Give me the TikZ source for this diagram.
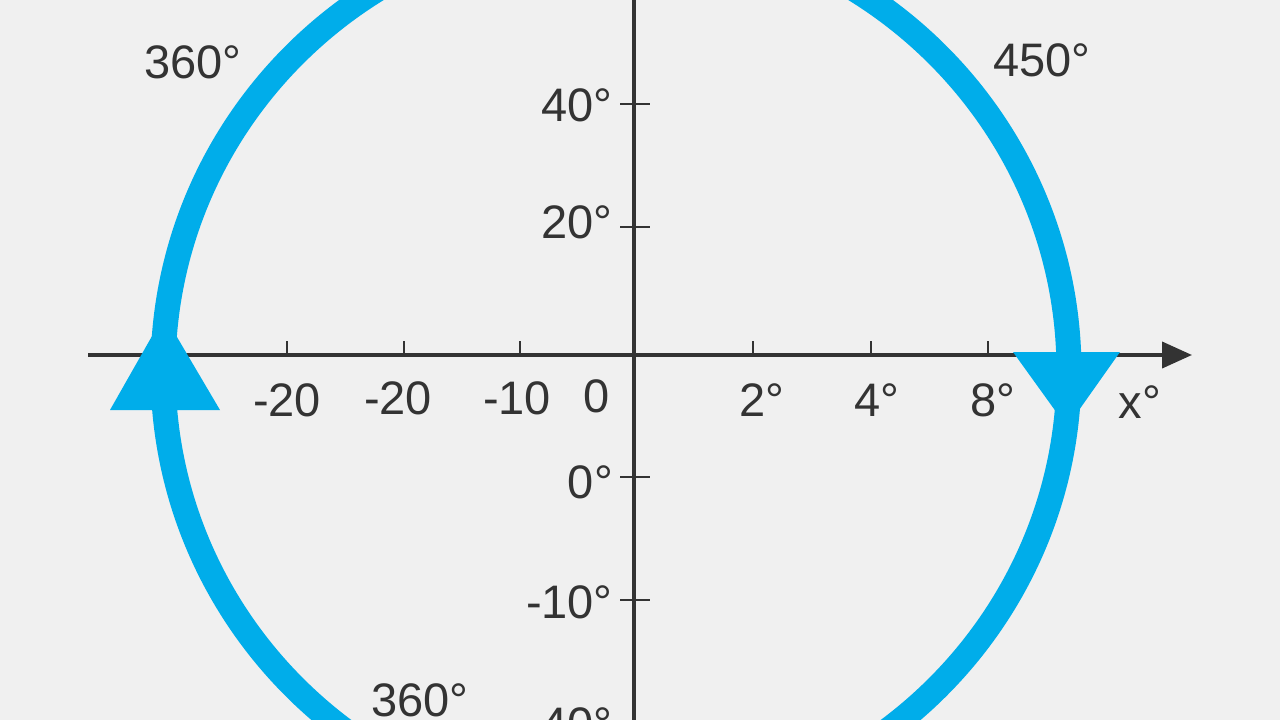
\documentclass[tikz,border=0pt]{standalone}
\usepackage{fontspec}
\setmainfont{Liberation Sans}
\usetikzlibrary{arrows.meta}
\definecolor{bg}{HTML}{F0F0F0}
\definecolor{ringblue}{HTML}{00ADEA}
\definecolor{ink}{HTML}{333333}
\tikzset{
  lbl/.style={font=\fontsize{47}{52}\selectfont, text=ink, inner sep=0pt},
  axisline/.style={draw=ink, line width=4pt},
  tickmark/.style={draw=ink, line width=2.2pt},
  ring/.style={draw=ringblue, line width=25pt},
  headtri/.style={fill=ringblue, draw=none}
}
\begin{document}
\begin{tikzpicture}[x=1pt,y=-1pt]
\useasboundingbox (0,0) rectangle (1280,720);
\clip (0,0) rectangle (1280,720);
\fill[bg] (0,0) rectangle (1280,720);
% axes
\coordinate (xl) at (88,355);
\coordinate (xr) at (1192,355);
\coordinate (yt) at (634,-5);
\coordinate (yb) at (634,725);
\draw[axisline, -{Triangle[length=30pt,width=26pt]}] (xl) -- (xr);
\draw[axisline] (yt) -- (yb);
% x ticks
\foreach \x in {287,404,520,753,871,988} {
  \draw[tickmark] (\x,341) -- (\x,355);
}
% y ticks
\foreach \y in {104,227,477,600} {
  \draw[tickmark] (620,\y) -- (650,\y);
}
% ring
\draw[ring] (616,371) ellipse [x radius=453, y radius=449];
% arrowheads
\fill[headtri] (110,410) -- (220,410) -- (164,315) -- cycle;
\fill[headtri] (1013,352) -- (1120,352) -- (1067,427) -- cycle;
% x labels
\node[lbl] (xa) at (287,400) {-20};
\node[lbl] (xb) at (398,398) {-20};
\node[lbl] (xc) at (517,398) {-10};
\node[lbl] (xd) at (597,396) {0};
\node[lbl] (xe) at (762,400) {2°};
\node[lbl] (xf) at (877,400) {4°};
\node[lbl] (xg) at (993,400) {8°};
\node[lbl] (xh) at (1140,402) {x°};
% y labels
\node[lbl, anchor=east] (ya) at (613,105) {40°};
\node[lbl, anchor=east] (yb2) at (613,222) {20°};
\node[lbl, anchor=east] (yc) at (613,482) {0°};
\node[lbl, anchor=east] (yd) at (613,602) {-10°};
\node[lbl, anchor=east] (ye) at (613,724) {40°};
% angle labels
\node[lbl] (a1) at (193,62) {360°};
\node[lbl] (a2) at (1042,60) {450°};
\node[lbl] (a3) at (420,700) {360°};
\end{tikzpicture}
\end{document}
